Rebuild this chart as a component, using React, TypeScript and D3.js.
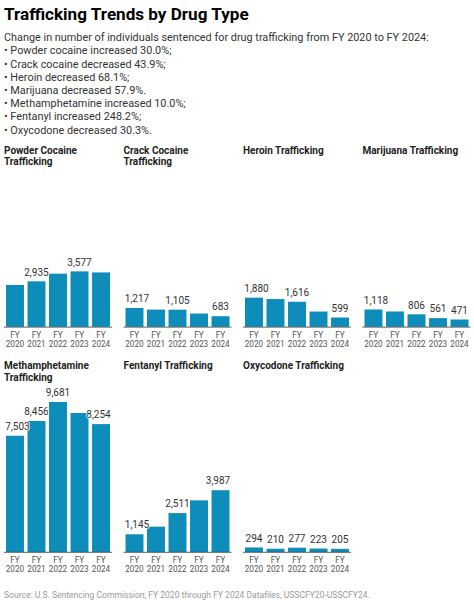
import React from "react";
import * as d3 from "d3";

const title = "Trafficking Trends by Drug Type";
const introLines = [
  "Change in number of individuals sentenced for drug trafficking from FY 2020 to FY 2024:",
  "• Powder cocaine increased 30.0%;",
  "• Crack cocaine decreased 43.9%;",
  "• Heroin decreased 68.1%;",
  "• Marijuana decreased 57.9%.",
  "• Methamphetamine increased 10.0%;",
  "• Fentanyl increased 248.2%;",
  "• Oxycodone decreased 30.3%.",
];
const source = "Source: U.S. Sentencing Commission, FY 2020 through FY 2024 Datafiles, USSCFY20-USSCFY24.";
const years = ["2020", "2021", "2022", "2023", "2024"];

const powder = [2700, 2935, 3430, 3577, 3510];
const crack = [1217, 1110, 1105, 855, 683];
const heroin = [1880, 1790, 1616, 985, 599];
const marijuana = [1118, 990, 806, 561, 471];
const meth = [7503, 8456, 9681, 8970, 8254];
const fentanyl = [1145, 1635, 2511, 3335, 3987];
const oxycodone = [294, 210, 277, 223, 205];

const powderShown = [1, 3];
const crackShown = [0, 2, 4];
const heroinShown = [0, 2, 4];
const marijuanaShown = [0, 2, 3, 4];
const methShown = [0, 1, 2, 4];
const fentanylShown = [0, 2, 4];
const oxycodoneShown = [0, 1, 2, 3, 4];

const panels = [
  { name: ["Powder Cocaine", "Trafficking"], values: powder, shown: powderShown, col: 0, row: 0 },
  { name: ["Crack Cocaine", "Trafficking"], values: crack, shown: crackShown, col: 1, row: 0 },
  { name: ["Heroin Trafficking"], values: heroin, shown: heroinShown, col: 2, row: 0 },
  { name: ["Marijuana Trafficking"], values: marijuana, shown: marijuanaShown, col: 3, row: 0 },
  { name: ["Methamphetamine", "Trafficking"], values: meth, shown: methShown, col: 0, row: 1 },
  { name: ["Fentanyl Trafficking"], values: fentanyl, shown: fentanylShown, col: 1, row: 1 },
  { name: ["Oxycodone Trafficking"], values: oxycodone, shown: oxycodoneShown, col: 2, row: 1 },
];

const font = "Roboto, sans-serif";
const colX = d3.scaleLinear().domain([0, 1]).range([4, 123.5]);
const baselines = [326.8, 552];
const titleY = [153.7, 369];
const y = d3.scaleLinear().domain([0, 9681]).range([0, 150]);
const fmt = d3.format(",");

export default function App() {
  return (
    <svg width={474} height={604} style={{ position: "absolute", left: 0, top: 0, fontFamily: font, background: "#fff" }}>
      <text x={4} y={19.5} fontSize={17.1} fontWeight={700} fill="#000">{title}</text>
      {introLines.map((l, i) => (
        <text key={i} x={4} y={41.2 + i * 13.2} fontSize={10.87} fill="#333">{l}</text>
      ))}
      {panels.map((p) => {
        const x0 = colX(p.col);
        const x = d3.scaleBand().domain(years).range([x0 + 2, x0 + 106]).paddingInner(0.165).paddingOuter(0);
        const base = baselines[p.row];
        return (
          <g key={p.name[0]}>
            {p.name.map((t, i) => (
              <text key={t} x={x0} y={titleY[p.row] + i * 11.7} fontSize={10} fontWeight={700} fill="#222">{t}</text>
            ))}
            {p.values.map((v, i) => {
              const yr = years[i];
              const bx = x(yr)!;
              const h = y(v);
              return (
                <g key={yr}>
                  <rect x={bx} y={base - h} width={x.bandwidth()} height={h} fill="#0e8dba" />
                  <text x={bx + x.bandwidth() / 2} y={base + 11} textAnchor="middle" fontSize={8.2} fill="#555">FY</text>
                  <text x={bx + x.bandwidth() / 2} y={base + 20} textAnchor="middle" fontSize={8.2} fill="#555">{yr}</text>
                </g>
              );
            })}
            <line x1={x0} x2={x0 + 108} y1={base + 0.3} y2={base + 0.3} stroke="#333" strokeWidth={0.8} />
            {p.shown.map((i) => {
              const yr = years[i];
              const c = x(yr)! + x.bandwidth() / 2;
              const half = fmt(p.values[i]).length > 3 ? 11.5 : 7;
              const cx = Math.max(x0 + 2 + half, Math.min(x0 + 106 - half, c));
              return (
                <text key={yr} x={cx} y={base - y(p.values[i]) - 5.8} textAnchor="middle" fontSize={10} fill="#333"
                  stroke="#fff" strokeWidth={1.6} paintOrder="stroke">{fmt(p.values[i])}</text>
              );
            })}
          </g>
        );
      })}
      <text x={4} y={597.6} fontSize={8.55} fill="#9a9a9a">{source}</text>
    </svg>
  );
}
